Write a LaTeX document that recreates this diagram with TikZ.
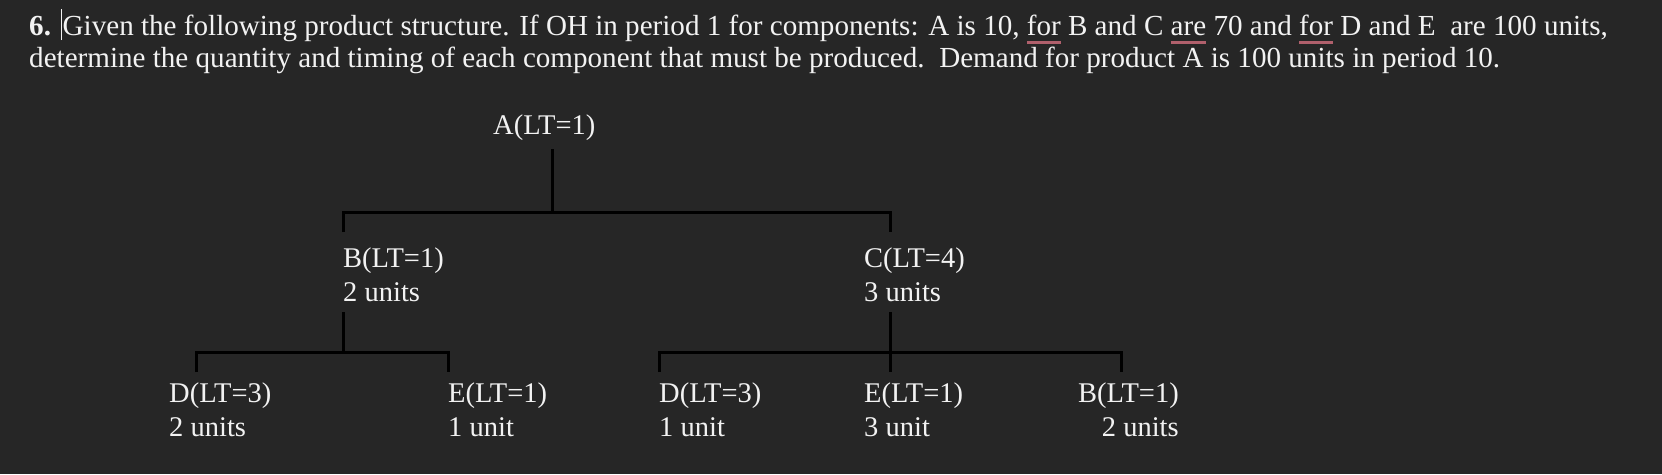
\documentclass[tikz,border=0pt]{standalone}
\usepackage{fontspec}
\setmainfont{Liberation Serif}
\usepackage{xcolor}
\definecolor{bgdark}{RGB}{38,38,38}
\definecolor{txtwhite}{RGB}{242,242,242}
\definecolor{spellmark}{RGB}{176,96,108}
\newsavebox{\markbox}
% word with the red spell-check bar under it
\newcommand{\marked}[1]{\sbox{\markbox}{#1}\rlap{\textcolor{spellmark}{\rule[-9pt]{\wd\markbox}{3.5pt}}}\usebox{\markbox}}

\begin{document}
\begin{tikzpicture}[x=1pt,y=-1pt,
  part/.style={anchor=base west,align=left,inner sep=0pt,text=txtwhite,font=\fontsize{28.5}{34}\selectfont},
  link/.style={draw=black,line width=3pt}]
\fill[bgdark] (0,0) rectangle (1662,474);
\useasboundingbox (0,0) rectangle (1662,474);

% nodes sit on the baseline of their last line
\node[part,font=\fontsize{29.1}{32}\selectfont] (title) at (29,67) {\textbf{6.} \rule[-5pt]{1pt}{31pt}\hspace{1pt}Given the following product structure.  If OH in period 1 for components: A is 10, \marked{for} B and C \marked{are} 70 and \marked{for} D and E\ \ are 100 units,\\determine the quantity and timing of each component that must be produced.\ \ Demand for product A is 100 units in period 10.};

\node[part] (A) at (493,134) {A(LT=1)};
\node[part] (B) at (343,301) {B(LT=1)\\2 units};
\node[part] (C) at (864,301) {C(LT=4)\\3 units};
\node[part] (D1) at (169,436) {D(LT=3)\\2 units};
\node[part] (E1) at (448,436) {E(LT=1)\\1 unit};
\node[part] (D2) at (659,436) {D(LT=3)\\1 unit};
\node[part] (E2) at (864,436) {E(LT=1)\\3 unit};
\node[part,align=right] (B2) at (1078,436) {B(LT=1)\\2 units};

% junctions of the tree
\coordinate (jA) at (552,212);
\coordinate (jC) at (890,212);
\coordinate (jB) at (343,352);
\coordinate (dD1) at (196,352);
\coordinate (dE1) at (448,352);
\coordinate (dD2) at (659,352);
\coordinate (jE2) at (890,352);
\coordinate (dB2) at (1121,352);

\draw[link,shorten <=9pt] (A.south -| jA) -- (jA);
\draw[link,shorten <=15pt,shorten >=15pt] (B.north west) |- (jC) -- (jC |- C.north);
\draw[link,shorten <=11pt] (B.south west) -- (jB);
\draw[link,shorten <=10pt,shorten >=10pt] (D1.north -| dD1) -- (dD1) -- (dE1) -- (E1.north west);
\draw[link,shorten <=11pt,shorten >=10pt] (C.south -| jE2) -- (E2.north -| jE2);
\draw[link,shorten <=10pt,shorten >=10pt] (D2.north west) -- (dD2) -- (dB2) -- (B2.north -| dB2);
\end{tikzpicture}
\end{document}
